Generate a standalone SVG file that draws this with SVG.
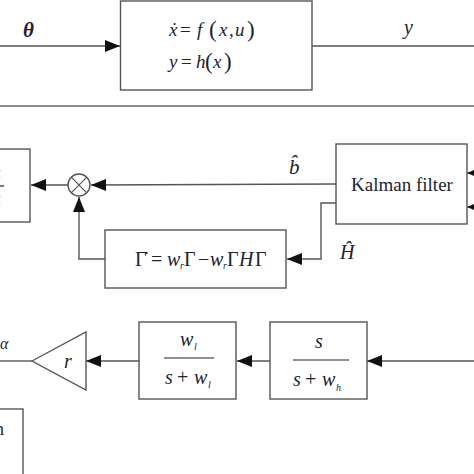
<svg xmlns="http://www.w3.org/2000/svg" width="474" height="474" viewBox="0 0 474 474">
<style>
.box{fill:#fff;stroke:#555;stroke-width:1.4}
.ln{fill:none;stroke:#555;stroke-width:1.4}
.t{font-family:"Liberation Serif","Times New Roman",serif;fill:#1c2430}
.i{font-style:italic}
</style>
<defs>
<marker id="ah" markerWidth="16" markerHeight="12" refX="15" refY="6" orient="auto" markerUnits="userSpaceOnUse">
<path d="M0,0 L15,6 L0,12 Z" fill="#111"/>
</marker>
<marker id="as" markerWidth="8" markerHeight="6" refX="7" refY="3" orient="auto" markerUnits="userSpaceOnUse">
<path d="M0,0 L7,3 L0,6 Z" fill="#111"/>
</marker>
</defs>
<rect width="474" height="474" fill="#fff"/>
<g id="connectors">
<line class="ln" x1="0" y1="46" x2="120" y2="46" marker-end="url(#ah)"/>
<line class="ln" x1="312" y1="46" x2="474" y2="46"/>
<line x1="0" y1="106" x2="474" y2="106" stroke="#666" stroke-width="1.4"/>
<line class="ln" x1="68" y1="185" x2="31" y2="185" marker-end="url(#ah)"/>
<line class="ln" x1="336" y1="184" x2="91" y2="185" marker-end="url(#ah)"/>
<polyline class="ln" points="336,203 321,203 321,259 287,259" marker-end="url(#ah)"/>
<polyline class="ln" points="105,259 79,259 79,197" marker-end="url(#ah)"/>
<line class="ln" x1="474" y1="173" x2="467" y2="173" marker-end="url(#as)"/>
<line class="ln" x1="474" y1="207" x2="467" y2="207" marker-end="url(#as)"/>
<line class="ln" x1="474" y1="361" x2="367" y2="361" marker-end="url(#ah)"/>
<line class="ln" x1="270" y1="361" x2="237" y2="361" marker-end="url(#ah)"/>
<line class="ln" x1="139" y1="361" x2="86" y2="361" marker-end="url(#ah)"/>
<line class="ln" x1="0" y1="361" x2="32" y2="361"/>
</g>
<g id="labels">
<text class="t i" x="23" y="37" font-size="21" font-weight="bold">θ</text>
<text class="t i" x="404" y="34" font-size="20">y</text>
<text class="t i" x="289" y="174" font-size="21">b̂</text>
<text class="t i" x="340" y="259" font-size="20">Ĥ</text>
<text class="t i" x="0" y="349" font-size="16">α</text>
</g>
<g id="plant">
<rect class="box" x="120.5" y="1" width="191.5" height="89"/>
<text class="t i" x="169" y="36" font-size="19">ẋ</text>
<text class="t" x="180" y="36" font-size="19">=</text>
<text class="t i" x="197" y="36" font-size="19">f</text>
<text class="t" x="209" y="37" font-size="23">(</text>
<text class="t i" x="219" y="36" font-size="19">x</text>
<text class="t" x="229" y="36" font-size="19">,</text>
<text class="t i" x="235" y="36" font-size="19">u</text>
<text class="t" x="247" y="37" font-size="23">)</text>
<text class="t i" x="169" y="68" font-size="19">y</text>
<text class="t" x="181" y="68" font-size="19">=</text>
<text class="t i" x="196" y="68" font-size="19">h</text>
<text class="t" x="205" y="69" font-size="23">(</text>
<text class="t i" x="213" y="68" font-size="19">x</text>
<text class="t" x="224" y="69" font-size="23">)</text>
</g>
<g id="left-box">
<rect class="box" x="-2" y="149" width="32" height="73"/>
<text x="-6" y="178" font-size="16" font-family="Liberation Serif,serif" fill="#3a6fa0">ε</text>
<line x1="0" y1="186" x2="4" y2="186" stroke="#222" stroke-width="1.2"/>
<text x="-6" y="204" font-size="16" font-family="Liberation Serif,serif" fill="#3a6fa0">ε</text>
</g>
<g id="multiplier">
<circle cx="79" cy="185" r="11" fill="#fff" stroke="#555" stroke-width="1.4"/>
<line x1="71.2" y1="177.2" x2="86.8" y2="192.8" stroke="#555" stroke-width="1.2"/>
<line x1="86.8" y1="177.2" x2="71.2" y2="192.8" stroke="#555" stroke-width="1.2"/>
</g>
<g id="kalman">
<rect class="box" x="336" y="144" width="131" height="80"/>
<text class="t" x="402" y="191" font-size="19" text-anchor="middle">Kalman filter</text>
</g>
<g id="gamma">
<rect class="box" x="105" y="230" width="181" height="58"/>
<text class="t" x="135" y="266" font-size="20">Γ̇</text>
<text class="t" x="151" y="266" font-size="20">=</text>
<text class="t i" x="167" y="266" font-size="20">w</text>
<text class="t i" x="180" y="269" font-size="10">r</text>
<text class="t" x="184" y="266" font-size="20">Γ</text>
<text class="t" x="198" y="266" font-size="20">−</text>
<text class="t i" x="210" y="266" font-size="20">w</text>
<text class="t i" x="223" y="269" font-size="10">r</text>
<text class="t" x="227" y="266" font-size="20">Γ</text>
<text class="t i" x="239" y="266" font-size="20">H</text>
<text class="t" x="255" y="266" font-size="20">Γ</text>
</g>
<g id="gain">
<polygon points="32,361 86,332 86,390" fill="#fff" stroke="#555" stroke-width="1.4"/>
<text class="t i" x="64" y="368" font-size="20">r</text>
</g>
<g id="lowpass">
<rect class="box" x="139" y="322" width="97" height="77"/>
<text class="t i" x="180" y="346" font-size="20">w</text>
<text class="t i" x="194" y="350" font-size="10">l</text>
<line x1="164" y1="358" x2="214" y2="358" stroke="#222" stroke-width="1.2"/>
<text class="t i" x="165" y="384" font-size="20">s</text>
<text class="t" x="177" y="384" font-size="20">+</text>
<text class="t i" x="194" y="384" font-size="20">w</text>
<text class="t i" x="208" y="388" font-size="10">l</text>
</g>
<g id="highpass">
<rect class="box" x="270" y="322" width="97" height="77"/>
<text class="t i" x="315" y="348" font-size="20">s</text>
<line x1="293" y1="360" x2="349" y2="360" stroke="#222" stroke-width="1.2"/>
<text class="t i" x="293" y="386" font-size="20">s</text>
<text class="t" x="305" y="386" font-size="20">+</text>
<text class="t i" x="322" y="386" font-size="20">w</text>
<text class="t i" x="336" y="391" font-size="10">h</text>
</g>
<g id="bottom-left-box">
<rect class="box" x="-2" y="409" width="25" height="70"/>
<text class="t" x="-5" y="435" font-size="18">n</text>
</g>
</svg>
